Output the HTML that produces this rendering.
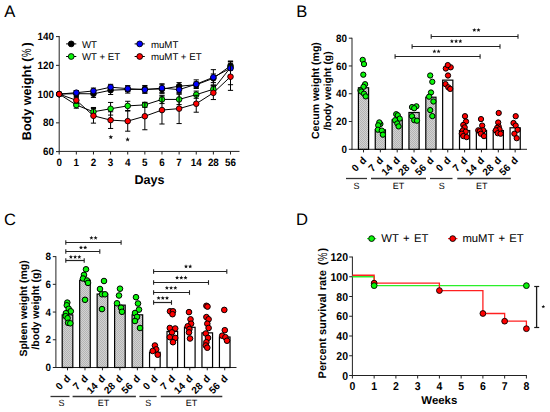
<!DOCTYPE html>
<html><head><meta charset="utf-8"><style>
html,body{margin:0;padding:0;background:#fff;}
svg{display:block;}
text{font-family:"Liberation Sans", sans-serif;text-rendering:geometricPrecision;}
</style></head><body>
<svg width="550" height="412" viewBox="0 0 550 412">
<defs><pattern id="hatch" width="2" height="2" patternUnits="userSpaceOnUse"><rect width="2" height="2" fill="#d2d2d2"/><rect width="1" height="1" fill="#b4b4b4"/><rect x="1" y="1" width="1" height="1" fill="#b4b4b4"/></pattern></defs>
<rect width="550" height="412" fill="#fff"/>
<text x="4.2" y="16.6" font-size="16.6">A</text>
<line x1="59.2" y1="36" x2="59.2" y2="151.9" stroke="#222" stroke-width="1"/>
<line x1="58.7" y1="151.4" x2="239.5" y2="151.4" stroke="#222" stroke-width="1"/>
<line x1="56" y1="36.6" x2="59.2" y2="36.6" stroke="#222" stroke-width="1"/>
<text transform="translate(54 40.2) scale(0.93 1)" font-size="10.6" font-weight="bold" text-anchor="end">140</text>
<line x1="56" y1="65.35" x2="59.2" y2="65.35" stroke="#222" stroke-width="1"/>
<text transform="translate(54 68.95) scale(0.93 1)" font-size="10.6" font-weight="bold" text-anchor="end">120</text>
<line x1="56" y1="94.1" x2="59.2" y2="94.1" stroke="#222" stroke-width="1"/>
<text transform="translate(54 97.7) scale(0.93 1)" font-size="10.6" font-weight="bold" text-anchor="end">100</text>
<line x1="56" y1="122.85" x2="59.2" y2="122.85" stroke="#222" stroke-width="1"/>
<text transform="translate(54 126.45) scale(0.93 1)" font-size="10.6" font-weight="bold" text-anchor="end">80</text>
<line x1="56" y1="151.6" x2="59.2" y2="151.6" stroke="#222" stroke-width="1"/>
<text transform="translate(54 155.2) scale(0.93 1)" font-size="10.6" font-weight="bold" text-anchor="end">60</text>
<line x1="59.2" y1="151.4" x2="59.2" y2="154.5" stroke="#222" stroke-width="1"/>
<text transform="translate(59.2 165.6) scale(0.93 1)" font-size="10.6" font-weight="bold" text-anchor="middle">0</text>
<line x1="76.33" y1="151.4" x2="76.33" y2="154.5" stroke="#222" stroke-width="1"/>
<text transform="translate(76.33 165.6) scale(0.93 1)" font-size="10.6" font-weight="bold" text-anchor="middle">1</text>
<line x1="93.46" y1="151.4" x2="93.46" y2="154.5" stroke="#222" stroke-width="1"/>
<text transform="translate(93.46 165.6) scale(0.93 1)" font-size="10.6" font-weight="bold" text-anchor="middle">2</text>
<line x1="110.59" y1="151.4" x2="110.59" y2="154.5" stroke="#222" stroke-width="1"/>
<text transform="translate(110.59 165.6) scale(0.93 1)" font-size="10.6" font-weight="bold" text-anchor="middle">3</text>
<line x1="127.72" y1="151.4" x2="127.72" y2="154.5" stroke="#222" stroke-width="1"/>
<text transform="translate(127.72 165.6) scale(0.93 1)" font-size="10.6" font-weight="bold" text-anchor="middle">4</text>
<line x1="144.85" y1="151.4" x2="144.85" y2="154.5" stroke="#222" stroke-width="1"/>
<text transform="translate(144.85 165.6) scale(0.93 1)" font-size="10.6" font-weight="bold" text-anchor="middle">5</text>
<line x1="161.98" y1="151.4" x2="161.98" y2="154.5" stroke="#222" stroke-width="1"/>
<text transform="translate(161.98 165.6) scale(0.93 1)" font-size="10.6" font-weight="bold" text-anchor="middle">6</text>
<line x1="179.11" y1="151.4" x2="179.11" y2="154.5" stroke="#222" stroke-width="1"/>
<text transform="translate(179.11 165.6) scale(0.93 1)" font-size="10.6" font-weight="bold" text-anchor="middle">7</text>
<line x1="196.24" y1="151.4" x2="196.24" y2="154.5" stroke="#222" stroke-width="1"/>
<text transform="translate(196.24 165.6) scale(0.93 1)" font-size="10.6" font-weight="bold" text-anchor="middle">14</text>
<line x1="213.37" y1="151.4" x2="213.37" y2="154.5" stroke="#222" stroke-width="1"/>
<text transform="translate(213.37 165.6) scale(0.93 1)" font-size="10.6" font-weight="bold" text-anchor="middle">28</text>
<line x1="230.5" y1="151.4" x2="230.5" y2="154.5" stroke="#222" stroke-width="1"/>
<text transform="translate(230.5 165.6) scale(0.93 1)" font-size="10.6" font-weight="bold" text-anchor="middle">56</text>
<text x="149.5" y="184.2" font-size="12.6" font-weight="bold" text-anchor="middle">Days</text>
<text x="31.3" y="140.2" font-size="12.6" font-weight="bold" transform="rotate(-90 31.3 140.2)">Body weight</text>
<text x="31.3" y="61.7" font-size="12.6" font-weight="bold" transform="rotate(-90 31.3 61.7)">(</text>
<text font-size="13.4" text-anchor="middle" transform="translate(31.2 52.75) rotate(-90) scale(0.72 1)">%</text>
<text x="31.3" y="46.6" font-size="12.6" font-weight="bold" transform="rotate(-90 31.3 46.6)">)</text>
<line x1="66.1" y1="43.9" x2="76.3" y2="43.9" stroke="#000" stroke-width="1"/>
<circle cx="71.2" cy="43.9" r="2.9" fill="#000" stroke="#000" stroke-width="0.9"/>
<text x="81.9" y="47.8" font-size="9.7">WT</text>
<line x1="66.1" y1="56.5" x2="76.3" y2="56.5" stroke="#000" stroke-width="1"/>
<circle cx="71.2" cy="56.5" r="2.9" fill="#0af50a" stroke="#000" stroke-width="0.9"/>
<text x="81.9" y="60.3" font-size="9.7">WT + ET</text>
<line x1="134.6" y1="43.9" x2="144.8" y2="43.9" stroke="#000" stroke-width="1"/>
<circle cx="139.7" cy="43.9" r="2.9" fill="#0000ff" stroke="#000" stroke-width="0.9"/>
<text x="150.9" y="47.8" font-size="9.7">muMT</text>
<line x1="134.6" y1="56.5" x2="144.8" y2="56.5" stroke="#000" stroke-width="1"/>
<circle cx="139.7" cy="56.5" r="2.9" fill="#ff0000" stroke="#000" stroke-width="0.9"/>
<text x="150.9" y="60.3" font-size="9.7">muMT + ET</text>
<polyline points="59.2,94.1 76.33,93.67 93.46,93.81 110.59,90.22 127.72,89.5 144.85,89.07 161.98,89.07 179.11,86.19 196.24,84.76 213.37,78.29 230.5,65.78" fill="none" stroke="#000" stroke-width="1"/>
<polyline points="59.2,94.1 76.33,105.02 93.46,111.78 110.59,108.76 127.72,105.89 144.85,104.88 161.98,99.42 179.11,99.42 196.24,94.67 213.37,89.21 230.5,67.51" fill="none" stroke="#000" stroke-width="1"/>
<polyline points="59.2,94.1 76.33,92.66 93.46,90.94 110.59,87.2 127.72,88.64 144.85,89.79 161.98,88.06 179.11,89.64 196.24,84.18 213.37,77.28 230.5,68.22" fill="none" stroke="#000" stroke-width="1"/>
<polyline points="59.2,94.1 76.33,100.28 93.46,115.81 110.59,120.12 127.72,121.12 144.85,116.24 161.98,110.06 179.11,108.62 196.24,103.73 213.37,92.81 230.5,76.71" fill="none" stroke="#000" stroke-width="1"/>
<line x1="76.33" y1="90.79" x2="76.33" y2="96.54" stroke="#000" stroke-width="1"/>
<line x1="73.73" y1="90.79" x2="78.93" y2="90.79" stroke="#000" stroke-width="1"/>
<line x1="73.73" y1="96.54" x2="78.93" y2="96.54" stroke="#000" stroke-width="1"/>
<line x1="93.46" y1="90.22" x2="93.46" y2="97.41" stroke="#000" stroke-width="1"/>
<line x1="90.86" y1="90.22" x2="96.06" y2="90.22" stroke="#000" stroke-width="1"/>
<line x1="90.86" y1="97.41" x2="96.06" y2="97.41" stroke="#000" stroke-width="1"/>
<line x1="110.59" y1="85.91" x2="110.59" y2="94.53" stroke="#000" stroke-width="1"/>
<line x1="107.99" y1="85.91" x2="113.19" y2="85.91" stroke="#000" stroke-width="1"/>
<line x1="107.99" y1="94.53" x2="113.19" y2="94.53" stroke="#000" stroke-width="1"/>
<line x1="127.72" y1="85.91" x2="127.72" y2="93.09" stroke="#000" stroke-width="1"/>
<line x1="125.12" y1="85.91" x2="130.32" y2="85.91" stroke="#000" stroke-width="1"/>
<line x1="125.12" y1="93.09" x2="130.32" y2="93.09" stroke="#000" stroke-width="1"/>
<line x1="144.85" y1="85.47" x2="144.85" y2="92.66" stroke="#000" stroke-width="1"/>
<line x1="142.25" y1="85.47" x2="147.45" y2="85.47" stroke="#000" stroke-width="1"/>
<line x1="142.25" y1="92.66" x2="147.45" y2="92.66" stroke="#000" stroke-width="1"/>
<line x1="161.98" y1="84.76" x2="161.98" y2="93.38" stroke="#000" stroke-width="1"/>
<line x1="159.38" y1="84.76" x2="164.58" y2="84.76" stroke="#000" stroke-width="1"/>
<line x1="159.38" y1="93.38" x2="164.58" y2="93.38" stroke="#000" stroke-width="1"/>
<line x1="179.11" y1="82.6" x2="179.11" y2="89.79" stroke="#000" stroke-width="1"/>
<line x1="176.51" y1="82.6" x2="181.71" y2="82.6" stroke="#000" stroke-width="1"/>
<line x1="176.51" y1="89.79" x2="181.71" y2="89.79" stroke="#000" stroke-width="1"/>
<line x1="196.24" y1="81.88" x2="196.24" y2="87.63" stroke="#000" stroke-width="1"/>
<line x1="193.64" y1="81.88" x2="198.84" y2="81.88" stroke="#000" stroke-width="1"/>
<line x1="193.64" y1="87.63" x2="198.84" y2="87.63" stroke="#000" stroke-width="1"/>
<line x1="213.37" y1="73.97" x2="213.37" y2="82.6" stroke="#000" stroke-width="1"/>
<line x1="210.77" y1="73.97" x2="215.97" y2="73.97" stroke="#000" stroke-width="1"/>
<line x1="210.77" y1="82.6" x2="215.97" y2="82.6" stroke="#000" stroke-width="1"/>
<line x1="230.5" y1="61.47" x2="230.5" y2="70.09" stroke="#000" stroke-width="1"/>
<line x1="227.9" y1="61.47" x2="233.1" y2="61.47" stroke="#000" stroke-width="1"/>
<line x1="227.9" y1="70.09" x2="233.1" y2="70.09" stroke="#000" stroke-width="1"/>
<circle cx="59.2" cy="94.1" r="2.8" fill="#000" stroke="#000" stroke-width="0.9"/>
<circle cx="76.33" cy="93.67" r="2.8" fill="#000" stroke="#000" stroke-width="0.9"/>
<circle cx="93.46" cy="93.81" r="2.8" fill="#000" stroke="#000" stroke-width="0.9"/>
<circle cx="110.59" cy="90.22" r="2.8" fill="#000" stroke="#000" stroke-width="0.9"/>
<circle cx="127.72" cy="89.5" r="2.8" fill="#000" stroke="#000" stroke-width="0.9"/>
<circle cx="144.85" cy="89.07" r="2.8" fill="#000" stroke="#000" stroke-width="0.9"/>
<circle cx="161.98" cy="89.07" r="2.8" fill="#000" stroke="#000" stroke-width="0.9"/>
<circle cx="179.11" cy="86.19" r="2.8" fill="#000" stroke="#000" stroke-width="0.9"/>
<circle cx="196.24" cy="84.76" r="2.8" fill="#000" stroke="#000" stroke-width="0.9"/>
<circle cx="213.37" cy="78.29" r="2.8" fill="#000" stroke="#000" stroke-width="0.9"/>
<circle cx="230.5" cy="65.78" r="2.8" fill="#000" stroke="#000" stroke-width="0.9"/>
<line x1="76.33" y1="101.86" x2="76.33" y2="108.19" stroke="#000" stroke-width="1"/>
<line x1="73.73" y1="101.86" x2="78.93" y2="101.86" stroke="#000" stroke-width="1"/>
<line x1="73.73" y1="108.19" x2="78.93" y2="108.19" stroke="#000" stroke-width="1"/>
<line x1="93.46" y1="107.47" x2="93.46" y2="116.09" stroke="#000" stroke-width="1"/>
<line x1="90.86" y1="107.47" x2="96.06" y2="107.47" stroke="#000" stroke-width="1"/>
<line x1="90.86" y1="116.09" x2="96.06" y2="116.09" stroke="#000" stroke-width="1"/>
<line x1="110.59" y1="102.44" x2="110.59" y2="115.09" stroke="#000" stroke-width="1"/>
<line x1="107.99" y1="102.44" x2="113.19" y2="102.44" stroke="#000" stroke-width="1"/>
<line x1="107.99" y1="115.09" x2="113.19" y2="115.09" stroke="#000" stroke-width="1"/>
<line x1="127.72" y1="101.29" x2="127.72" y2="110.49" stroke="#000" stroke-width="1"/>
<line x1="125.12" y1="101.29" x2="130.32" y2="101.29" stroke="#000" stroke-width="1"/>
<line x1="125.12" y1="110.49" x2="130.32" y2="110.49" stroke="#000" stroke-width="1"/>
<line x1="144.85" y1="102.29" x2="144.85" y2="107.47" stroke="#000" stroke-width="1"/>
<line x1="142.25" y1="102.29" x2="147.45" y2="102.29" stroke="#000" stroke-width="1"/>
<line x1="142.25" y1="107.47" x2="147.45" y2="107.47" stroke="#000" stroke-width="1"/>
<line x1="161.98" y1="95.25" x2="161.98" y2="103.59" stroke="#000" stroke-width="1"/>
<line x1="159.38" y1="95.25" x2="164.58" y2="95.25" stroke="#000" stroke-width="1"/>
<line x1="159.38" y1="103.59" x2="164.58" y2="103.59" stroke="#000" stroke-width="1"/>
<line x1="179.11" y1="94.24" x2="179.11" y2="104.59" stroke="#000" stroke-width="1"/>
<line x1="176.51" y1="94.24" x2="181.71" y2="94.24" stroke="#000" stroke-width="1"/>
<line x1="176.51" y1="104.59" x2="181.71" y2="104.59" stroke="#000" stroke-width="1"/>
<line x1="196.24" y1="91.08" x2="196.24" y2="98.27" stroke="#000" stroke-width="1"/>
<line x1="193.64" y1="91.08" x2="198.84" y2="91.08" stroke="#000" stroke-width="1"/>
<line x1="193.64" y1="98.27" x2="198.84" y2="98.27" stroke="#000" stroke-width="1"/>
<line x1="213.37" y1="85.62" x2="213.37" y2="92.81" stroke="#000" stroke-width="1"/>
<line x1="210.77" y1="85.62" x2="215.97" y2="85.62" stroke="#000" stroke-width="1"/>
<line x1="210.77" y1="92.81" x2="215.97" y2="92.81" stroke="#000" stroke-width="1"/>
<circle cx="59.2" cy="94.1" r="2.8" fill="#0af50a" stroke="#000" stroke-width="0.9"/>
<circle cx="76.33" cy="105.02" r="2.8" fill="#0af50a" stroke="#000" stroke-width="0.9"/>
<circle cx="93.46" cy="111.78" r="2.8" fill="#0af50a" stroke="#000" stroke-width="0.9"/>
<circle cx="110.59" cy="108.76" r="2.8" fill="#0af50a" stroke="#000" stroke-width="0.9"/>
<circle cx="127.72" cy="105.89" r="2.8" fill="#0af50a" stroke="#000" stroke-width="0.9"/>
<circle cx="144.85" cy="104.88" r="2.8" fill="#0af50a" stroke="#000" stroke-width="0.9"/>
<circle cx="161.98" cy="99.42" r="2.8" fill="#0af50a" stroke="#000" stroke-width="0.9"/>
<circle cx="179.11" cy="99.42" r="2.8" fill="#0af50a" stroke="#000" stroke-width="0.9"/>
<circle cx="196.24" cy="94.67" r="2.8" fill="#0af50a" stroke="#000" stroke-width="0.9"/>
<circle cx="213.37" cy="89.21" r="2.8" fill="#0af50a" stroke="#000" stroke-width="0.9"/>
<circle cx="230.5" cy="67.51" r="2.8" fill="#0af50a" stroke="#000" stroke-width="0.9"/>
<line x1="76.33" y1="90.51" x2="76.33" y2="94.82" stroke="#000" stroke-width="1"/>
<line x1="73.73" y1="90.51" x2="78.93" y2="90.51" stroke="#000" stroke-width="1"/>
<line x1="73.73" y1="94.82" x2="78.93" y2="94.82" stroke="#000" stroke-width="1"/>
<line x1="93.46" y1="88.06" x2="93.46" y2="93.81" stroke="#000" stroke-width="1"/>
<line x1="90.86" y1="88.06" x2="96.06" y2="88.06" stroke="#000" stroke-width="1"/>
<line x1="90.86" y1="93.81" x2="96.06" y2="93.81" stroke="#000" stroke-width="1"/>
<line x1="110.59" y1="84.33" x2="110.59" y2="90.08" stroke="#000" stroke-width="1"/>
<line x1="107.99" y1="84.33" x2="113.19" y2="84.33" stroke="#000" stroke-width="1"/>
<line x1="107.99" y1="90.08" x2="113.19" y2="90.08" stroke="#000" stroke-width="1"/>
<line x1="127.72" y1="85.76" x2="127.72" y2="91.51" stroke="#000" stroke-width="1"/>
<line x1="125.12" y1="85.76" x2="130.32" y2="85.76" stroke="#000" stroke-width="1"/>
<line x1="125.12" y1="91.51" x2="130.32" y2="91.51" stroke="#000" stroke-width="1"/>
<line x1="144.85" y1="86.19" x2="144.85" y2="93.38" stroke="#000" stroke-width="1"/>
<line x1="142.25" y1="86.19" x2="147.45" y2="86.19" stroke="#000" stroke-width="1"/>
<line x1="142.25" y1="93.38" x2="147.45" y2="93.38" stroke="#000" stroke-width="1"/>
<line x1="161.98" y1="83.75" x2="161.98" y2="92.37" stroke="#000" stroke-width="1"/>
<line x1="159.38" y1="83.75" x2="164.58" y2="83.75" stroke="#000" stroke-width="1"/>
<line x1="159.38" y1="92.37" x2="164.58" y2="92.37" stroke="#000" stroke-width="1"/>
<line x1="179.11" y1="86.77" x2="179.11" y2="92.52" stroke="#000" stroke-width="1"/>
<line x1="176.51" y1="86.77" x2="181.71" y2="86.77" stroke="#000" stroke-width="1"/>
<line x1="176.51" y1="92.52" x2="181.71" y2="92.52" stroke="#000" stroke-width="1"/>
<line x1="196.24" y1="79.87" x2="196.24" y2="88.49" stroke="#000" stroke-width="1"/>
<line x1="193.64" y1="79.87" x2="198.84" y2="79.87" stroke="#000" stroke-width="1"/>
<line x1="193.64" y1="88.49" x2="198.84" y2="88.49" stroke="#000" stroke-width="1"/>
<line x1="213.37" y1="69.66" x2="213.37" y2="84.9" stroke="#000" stroke-width="1"/>
<line x1="210.77" y1="69.66" x2="215.97" y2="69.66" stroke="#000" stroke-width="1"/>
<line x1="210.77" y1="84.9" x2="215.97" y2="84.9" stroke="#000" stroke-width="1"/>
<line x1="230.5" y1="61.04" x2="230.5" y2="75.41" stroke="#000" stroke-width="1"/>
<line x1="227.9" y1="61.04" x2="233.1" y2="61.04" stroke="#000" stroke-width="1"/>
<line x1="227.9" y1="75.41" x2="233.1" y2="75.41" stroke="#000" stroke-width="1"/>
<circle cx="59.2" cy="94.1" r="2.8" fill="#0000ff" stroke="#000" stroke-width="0.9"/>
<circle cx="76.33" cy="92.66" r="2.8" fill="#0000ff" stroke="#000" stroke-width="0.9"/>
<circle cx="93.46" cy="90.94" r="2.8" fill="#0000ff" stroke="#000" stroke-width="0.9"/>
<circle cx="110.59" cy="87.2" r="2.8" fill="#0000ff" stroke="#000" stroke-width="0.9"/>
<circle cx="127.72" cy="88.64" r="2.8" fill="#0000ff" stroke="#000" stroke-width="0.9"/>
<circle cx="144.85" cy="89.79" r="2.8" fill="#0000ff" stroke="#000" stroke-width="0.9"/>
<circle cx="161.98" cy="88.06" r="2.8" fill="#0000ff" stroke="#000" stroke-width="0.9"/>
<circle cx="179.11" cy="89.64" r="2.8" fill="#0000ff" stroke="#000" stroke-width="0.9"/>
<circle cx="196.24" cy="84.18" r="2.8" fill="#0000ff" stroke="#000" stroke-width="0.9"/>
<circle cx="213.37" cy="77.28" r="2.8" fill="#0000ff" stroke="#000" stroke-width="0.9"/>
<circle cx="230.5" cy="68.22" r="2.8" fill="#0000ff" stroke="#000" stroke-width="0.9"/>
<line x1="76.33" y1="97.41" x2="76.33" y2="103.16" stroke="#000" stroke-width="1"/>
<line x1="73.73" y1="97.41" x2="78.93" y2="97.41" stroke="#000" stroke-width="1"/>
<line x1="73.73" y1="103.16" x2="78.93" y2="103.16" stroke="#000" stroke-width="1"/>
<line x1="93.46" y1="108.47" x2="93.46" y2="123.14" stroke="#000" stroke-width="1"/>
<line x1="90.86" y1="108.47" x2="96.06" y2="108.47" stroke="#000" stroke-width="1"/>
<line x1="90.86" y1="123.14" x2="96.06" y2="123.14" stroke="#000" stroke-width="1"/>
<line x1="110.59" y1="111.78" x2="110.59" y2="128.46" stroke="#000" stroke-width="1"/>
<line x1="107.99" y1="111.78" x2="113.19" y2="111.78" stroke="#000" stroke-width="1"/>
<line x1="107.99" y1="128.46" x2="113.19" y2="128.46" stroke="#000" stroke-width="1"/>
<line x1="127.72" y1="111.06" x2="127.72" y2="131.19" stroke="#000" stroke-width="1"/>
<line x1="125.12" y1="111.06" x2="130.32" y2="111.06" stroke="#000" stroke-width="1"/>
<line x1="125.12" y1="131.19" x2="130.32" y2="131.19" stroke="#000" stroke-width="1"/>
<line x1="144.85" y1="102.73" x2="144.85" y2="129.75" stroke="#000" stroke-width="1"/>
<line x1="142.25" y1="102.73" x2="147.45" y2="102.73" stroke="#000" stroke-width="1"/>
<line x1="142.25" y1="129.75" x2="147.45" y2="129.75" stroke="#000" stroke-width="1"/>
<line x1="161.98" y1="96.11" x2="161.98" y2="124" stroke="#000" stroke-width="1"/>
<line x1="159.38" y1="96.11" x2="164.58" y2="96.11" stroke="#000" stroke-width="1"/>
<line x1="159.38" y1="124" x2="164.58" y2="124" stroke="#000" stroke-width="1"/>
<line x1="179.11" y1="93.67" x2="179.11" y2="123.57" stroke="#000" stroke-width="1"/>
<line x1="176.51" y1="93.67" x2="181.71" y2="93.67" stroke="#000" stroke-width="1"/>
<line x1="176.51" y1="123.57" x2="181.71" y2="123.57" stroke="#000" stroke-width="1"/>
<line x1="196.24" y1="95.25" x2="196.24" y2="112.21" stroke="#000" stroke-width="1"/>
<line x1="193.64" y1="95.25" x2="198.84" y2="95.25" stroke="#000" stroke-width="1"/>
<line x1="193.64" y1="112.21" x2="198.84" y2="112.21" stroke="#000" stroke-width="1"/>
<line x1="213.37" y1="86.05" x2="213.37" y2="99.56" stroke="#000" stroke-width="1"/>
<line x1="210.77" y1="86.05" x2="215.97" y2="86.05" stroke="#000" stroke-width="1"/>
<line x1="210.77" y1="99.56" x2="215.97" y2="99.56" stroke="#000" stroke-width="1"/>
<line x1="230.5" y1="63.05" x2="230.5" y2="90.36" stroke="#000" stroke-width="1"/>
<line x1="227.9" y1="63.05" x2="233.1" y2="63.05" stroke="#000" stroke-width="1"/>
<line x1="227.9" y1="90.36" x2="233.1" y2="90.36" stroke="#000" stroke-width="1"/>
<circle cx="59.2" cy="94.1" r="2.8" fill="#ff0000" stroke="#000" stroke-width="0.9"/>
<circle cx="76.33" cy="100.28" r="2.8" fill="#ff0000" stroke="#000" stroke-width="0.9"/>
<circle cx="93.46" cy="115.81" r="2.8" fill="#ff0000" stroke="#000" stroke-width="0.9"/>
<circle cx="110.59" cy="120.12" r="2.8" fill="#ff0000" stroke="#000" stroke-width="0.9"/>
<circle cx="127.72" cy="121.12" r="2.8" fill="#ff0000" stroke="#000" stroke-width="0.9"/>
<circle cx="144.85" cy="116.24" r="2.8" fill="#ff0000" stroke="#000" stroke-width="0.9"/>
<circle cx="161.98" cy="110.06" r="2.8" fill="#ff0000" stroke="#000" stroke-width="0.9"/>
<circle cx="179.11" cy="108.62" r="2.8" fill="#ff0000" stroke="#000" stroke-width="0.9"/>
<circle cx="196.24" cy="103.73" r="2.8" fill="#ff0000" stroke="#000" stroke-width="0.9"/>
<circle cx="213.37" cy="92.81" r="2.8" fill="#ff0000" stroke="#000" stroke-width="0.9"/>
<circle cx="230.5" cy="76.71" r="2.8" fill="#ff0000" stroke="#000" stroke-width="0.9"/>
<line x1="227.9" y1="84.7" x2="233.1" y2="84.7" stroke="#000" stroke-width="1"/>
<polygon points="110.8,134.7 111.42,136.25 113.08,136.36 111.8,137.42 112.21,139.04 110.8,138.15 109.39,139.04 109.8,137.42 108.52,136.36 110.18,136.25" fill="#111"/>
<polygon points="127.6,137.1 128.22,138.65 129.88,138.76 128.6,139.82 129.01,141.44 127.6,140.55 126.19,141.44 126.6,139.82 125.32,138.76 126.98,138.65" fill="#111"/>
<text x="296.3" y="16.5" font-size="16.6">B</text>
<line x1="352" y1="37.8" x2="352" y2="149.8" stroke="#222" stroke-width="1"/>
<line x1="351.5" y1="149.3" x2="527" y2="149.3" stroke="#222" stroke-width="1"/>
<line x1="348.8" y1="38.18" x2="352" y2="38.18" stroke="#222" stroke-width="1"/>
<text transform="translate(347 41.78) scale(0.93 1)" font-size="10.6" font-weight="bold" text-anchor="end">80</text>
<line x1="348.8" y1="65.96" x2="352" y2="65.96" stroke="#222" stroke-width="1"/>
<text transform="translate(347 69.56) scale(0.93 1)" font-size="10.6" font-weight="bold" text-anchor="end">60</text>
<line x1="348.8" y1="93.74" x2="352" y2="93.74" stroke="#222" stroke-width="1"/>
<text transform="translate(347 97.34) scale(0.93 1)" font-size="10.6" font-weight="bold" text-anchor="end">40</text>
<line x1="348.8" y1="121.52" x2="352" y2="121.52" stroke="#222" stroke-width="1"/>
<text transform="translate(347 125.12) scale(0.93 1)" font-size="10.6" font-weight="bold" text-anchor="end">20</text>
<line x1="348.8" y1="149.3" x2="352" y2="149.3" stroke="#222" stroke-width="1"/>
<text transform="translate(347 152.9) scale(0.93 1)" font-size="10.6" font-weight="bold" text-anchor="end">0</text>
<rect x="358.4" y="87.77" width="10.2" height="61.53" fill="url(#hatch)" stroke="#000" stroke-width="1.2"/>
<rect x="375.25" y="129.85" width="10.2" height="19.45" fill="url(#hatch)" stroke="#000" stroke-width="1.2"/>
<rect x="392.1" y="119.85" width="10.2" height="29.45" fill="url(#hatch)" stroke="#000" stroke-width="1.2"/>
<rect x="408.95" y="112.49" width="10.2" height="36.81" fill="url(#hatch)" stroke="#000" stroke-width="1.2"/>
<rect x="425.8" y="97.21" width="10.2" height="52.09" fill="url(#hatch)" stroke="#000" stroke-width="1.2"/>
<rect x="442.65" y="80.13" width="10.2" height="69.17" fill="#fff" stroke="#000" stroke-width="1.2"/>
<rect x="459.5" y="130.55" width="10.2" height="18.75" fill="#fff" stroke="#000" stroke-width="1.2"/>
<rect x="476.35" y="130.41" width="10.2" height="18.89" fill="#fff" stroke="#000" stroke-width="1.2"/>
<rect x="493.2" y="130.55" width="10.2" height="18.75" fill="#fff" stroke="#000" stroke-width="1.2"/>
<rect x="510.05" y="127.77" width="10.2" height="21.53" fill="#fff" stroke="#000" stroke-width="1.2"/>
<circle cx="362.7" cy="59.9" r="2.65" fill="#0af50a" stroke="#000" stroke-width="1"/>
<circle cx="364" cy="64.1" r="2.65" fill="#0af50a" stroke="#000" stroke-width="1"/>
<circle cx="363.3" cy="74.7" r="2.65" fill="#0af50a" stroke="#000" stroke-width="1"/>
<circle cx="365.1" cy="84.2" r="2.65" fill="#0af50a" stroke="#000" stroke-width="1"/>
<circle cx="363.5" cy="86.8" r="2.65" fill="#0af50a" stroke="#000" stroke-width="1"/>
<circle cx="360.5" cy="90.4" r="2.65" fill="#0af50a" stroke="#000" stroke-width="1"/>
<circle cx="361.3" cy="91.6" r="2.65" fill="#0af50a" stroke="#000" stroke-width="1"/>
<circle cx="364" cy="93.7" r="2.65" fill="#0af50a" stroke="#000" stroke-width="1"/>
<circle cx="365.7" cy="96.4" r="2.65" fill="#0af50a" stroke="#000" stroke-width="1"/>
<circle cx="380.4" cy="124" r="2.65" fill="#0af50a" stroke="#000" stroke-width="1"/>
<circle cx="379.3" cy="122.4" r="2.65" fill="#0af50a" stroke="#000" stroke-width="1"/>
<circle cx="378.2" cy="125.3" r="2.65" fill="#0af50a" stroke="#000" stroke-width="1"/>
<circle cx="377.9" cy="129.7" r="2.65" fill="#0af50a" stroke="#000" stroke-width="1"/>
<circle cx="381.8" cy="130.6" r="2.65" fill="#0af50a" stroke="#000" stroke-width="1"/>
<circle cx="382.9" cy="134.7" r="2.65" fill="#0af50a" stroke="#000" stroke-width="1"/>
<circle cx="396.2" cy="114.2" r="2.65" fill="#0af50a" stroke="#000" stroke-width="1"/>
<circle cx="397.8" cy="115.3" r="2.65" fill="#0af50a" stroke="#000" stroke-width="1"/>
<circle cx="399.7" cy="118.6" r="2.65" fill="#0af50a" stroke="#000" stroke-width="1"/>
<circle cx="395.1" cy="120.2" r="2.65" fill="#0af50a" stroke="#000" stroke-width="1"/>
<circle cx="397.3" cy="123.5" r="2.65" fill="#0af50a" stroke="#000" stroke-width="1"/>
<circle cx="398.6" cy="126.4" r="2.65" fill="#0af50a" stroke="#000" stroke-width="1"/>
<circle cx="412" cy="107.1" r="2.65" fill="#0af50a" stroke="#000" stroke-width="1"/>
<circle cx="416.4" cy="106.3" r="2.65" fill="#0af50a" stroke="#000" stroke-width="1"/>
<circle cx="414.2" cy="108.2" r="2.65" fill="#0af50a" stroke="#000" stroke-width="1"/>
<circle cx="412" cy="116.2" r="2.65" fill="#0af50a" stroke="#000" stroke-width="1"/>
<circle cx="414.2" cy="120.2" r="2.65" fill="#0af50a" stroke="#000" stroke-width="1"/>
<circle cx="417" cy="120.7" r="2.65" fill="#0af50a" stroke="#000" stroke-width="1"/>
<circle cx="430.2" cy="75.5" r="2.65" fill="#0af50a" stroke="#000" stroke-width="1"/>
<circle cx="432.3" cy="81.8" r="2.65" fill="#0af50a" stroke="#000" stroke-width="1"/>
<circle cx="431" cy="92.5" r="2.65" fill="#0af50a" stroke="#000" stroke-width="1"/>
<circle cx="429.1" cy="96.7" r="2.65" fill="#0af50a" stroke="#000" stroke-width="1"/>
<circle cx="433.4" cy="101.5" r="2.65" fill="#0af50a" stroke="#000" stroke-width="1"/>
<circle cx="430.2" cy="110.1" r="2.65" fill="#0af50a" stroke="#000" stroke-width="1"/>
<circle cx="432.3" cy="116.1" r="2.65" fill="#0af50a" stroke="#000" stroke-width="1"/>
<circle cx="450.7" cy="67.3" r="2.65" fill="#ff0000" stroke="#000" stroke-width="1"/>
<circle cx="445.8" cy="68.5" r="2.65" fill="#ff0000" stroke="#000" stroke-width="1"/>
<circle cx="447.8" cy="65.1" r="2.65" fill="#ff0000" stroke="#000" stroke-width="1"/>
<circle cx="448" cy="75.5" r="2.65" fill="#ff0000" stroke="#000" stroke-width="1"/>
<circle cx="445.5" cy="84.1" r="2.65" fill="#ff0000" stroke="#000" stroke-width="1"/>
<circle cx="448.3" cy="87.3" r="2.65" fill="#ff0000" stroke="#000" stroke-width="1"/>
<circle cx="450.2" cy="88.9" r="2.65" fill="#ff0000" stroke="#000" stroke-width="1"/>
<circle cx="465" cy="116.2" r="2.65" fill="#ff0000" stroke="#000" stroke-width="1"/>
<circle cx="466" cy="121.5" r="2.65" fill="#ff0000" stroke="#000" stroke-width="1"/>
<circle cx="463.3" cy="124.9" r="2.65" fill="#ff0000" stroke="#000" stroke-width="1"/>
<circle cx="464.7" cy="127.4" r="2.65" fill="#ff0000" stroke="#000" stroke-width="1"/>
<circle cx="462.8" cy="130.5" r="2.65" fill="#ff0000" stroke="#000" stroke-width="1"/>
<circle cx="465.7" cy="131.7" r="2.65" fill="#ff0000" stroke="#000" stroke-width="1"/>
<circle cx="461.8" cy="133.7" r="2.65" fill="#ff0000" stroke="#000" stroke-width="1"/>
<circle cx="463.3" cy="136.1" r="2.65" fill="#ff0000" stroke="#000" stroke-width="1"/>
<circle cx="466.7" cy="137.1" r="2.65" fill="#ff0000" stroke="#000" stroke-width="1"/>
<circle cx="481" cy="119.1" r="2.65" fill="#ff0000" stroke="#000" stroke-width="1"/>
<circle cx="482.2" cy="125.6" r="2.65" fill="#ff0000" stroke="#000" stroke-width="1"/>
<circle cx="478.3" cy="130.3" r="2.65" fill="#ff0000" stroke="#000" stroke-width="1"/>
<circle cx="483.2" cy="130.3" r="2.65" fill="#ff0000" stroke="#000" stroke-width="1"/>
<circle cx="479.8" cy="131.2" r="2.65" fill="#ff0000" stroke="#000" stroke-width="1"/>
<circle cx="480.8" cy="133.7" r="2.65" fill="#ff0000" stroke="#000" stroke-width="1"/>
<circle cx="484" cy="136.1" r="2.65" fill="#ff0000" stroke="#000" stroke-width="1"/>
<circle cx="498.7" cy="113" r="2.65" fill="#ff0000" stroke="#000" stroke-width="1"/>
<circle cx="498.2" cy="122.5" r="2.65" fill="#ff0000" stroke="#000" stroke-width="1"/>
<circle cx="498.7" cy="126.6" r="2.65" fill="#ff0000" stroke="#000" stroke-width="1"/>
<circle cx="497.2" cy="127.8" r="2.65" fill="#ff0000" stroke="#000" stroke-width="1"/>
<circle cx="499.5" cy="129.3" r="2.65" fill="#ff0000" stroke="#000" stroke-width="1"/>
<circle cx="495.8" cy="130.3" r="2.65" fill="#ff0000" stroke="#000" stroke-width="1"/>
<circle cx="497.7" cy="133.2" r="2.65" fill="#ff0000" stroke="#000" stroke-width="1"/>
<circle cx="500.6" cy="133.7" r="2.65" fill="#ff0000" stroke="#000" stroke-width="1"/>
<circle cx="515.7" cy="116.2" r="2.65" fill="#ff0000" stroke="#000" stroke-width="1"/>
<circle cx="513.5" cy="123" r="2.65" fill="#ff0000" stroke="#000" stroke-width="1"/>
<circle cx="515.7" cy="125.6" r="2.65" fill="#ff0000" stroke="#000" stroke-width="1"/>
<circle cx="517.6" cy="129.8" r="2.65" fill="#ff0000" stroke="#000" stroke-width="1"/>
<circle cx="514.4" cy="133.7" r="2.65" fill="#ff0000" stroke="#000" stroke-width="1"/>
<circle cx="516.7" cy="138.2" r="2.65" fill="#ff0000" stroke="#000" stroke-width="1"/>
<line x1="363.5" y1="149.3" x2="363.5" y2="152.4" stroke="#222" stroke-width="1"/>
<text x="367" y="161" font-size="10.0" font-weight="bold" text-anchor="end" word-spacing="1.6" transform="rotate(-45 367 161)">0 d</text>
<line x1="380.35" y1="149.3" x2="380.35" y2="152.4" stroke="#222" stroke-width="1"/>
<text x="383.85" y="161" font-size="10.0" font-weight="bold" text-anchor="end" word-spacing="1.6" transform="rotate(-45 383.85 161)">7 d</text>
<line x1="397.2" y1="149.3" x2="397.2" y2="152.4" stroke="#222" stroke-width="1"/>
<text x="400.7" y="161" font-size="10.0" font-weight="bold" text-anchor="end" word-spacing="1.6" transform="rotate(-45 400.7 161)">14 d</text>
<line x1="414.05" y1="149.3" x2="414.05" y2="152.4" stroke="#222" stroke-width="1"/>
<text x="417.55" y="161" font-size="10.0" font-weight="bold" text-anchor="end" word-spacing="1.6" transform="rotate(-45 417.55 161)">28 d</text>
<line x1="430.9" y1="149.3" x2="430.9" y2="152.4" stroke="#222" stroke-width="1"/>
<text x="434.4" y="161" font-size="10.0" font-weight="bold" text-anchor="end" word-spacing="1.6" transform="rotate(-45 434.4 161)">56 d</text>
<line x1="447.75" y1="149.3" x2="447.75" y2="152.4" stroke="#222" stroke-width="1"/>
<text x="451.25" y="161" font-size="10.0" font-weight="bold" text-anchor="end" word-spacing="1.6" transform="rotate(-45 451.25 161)">0 d</text>
<line x1="464.6" y1="149.3" x2="464.6" y2="152.4" stroke="#222" stroke-width="1"/>
<text x="468.1" y="161" font-size="10.0" font-weight="bold" text-anchor="end" word-spacing="1.6" transform="rotate(-45 468.1 161)">7 d</text>
<line x1="481.45" y1="149.3" x2="481.45" y2="152.4" stroke="#222" stroke-width="1"/>
<text x="484.95" y="161" font-size="10.0" font-weight="bold" text-anchor="end" word-spacing="1.6" transform="rotate(-45 484.95 161)">14 d</text>
<line x1="498.3" y1="149.3" x2="498.3" y2="152.4" stroke="#222" stroke-width="1"/>
<text x="501.8" y="161" font-size="10.0" font-weight="bold" text-anchor="end" word-spacing="1.6" transform="rotate(-45 501.8 161)">28 d</text>
<line x1="515.15" y1="149.3" x2="515.15" y2="152.4" stroke="#222" stroke-width="1"/>
<text x="518.65" y="161" font-size="10.0" font-weight="bold" text-anchor="end" word-spacing="1.6" transform="rotate(-45 518.65 161)">56 d</text>
<line x1="346" y1="178.5" x2="367" y2="178.5" stroke="#333" stroke-width="1.3"/>
<text x="356.5" y="188.6" font-size="9" text-anchor="middle">S</text>
<line x1="371" y1="178.5" x2="426" y2="178.5" stroke="#333" stroke-width="1.3"/>
<text x="398.5" y="188.6" font-size="9" text-anchor="middle">ET</text>
<line x1="430" y1="178.5" x2="452.5" y2="178.5" stroke="#333" stroke-width="1.3"/>
<text x="441.7" y="188.6" font-size="9" text-anchor="middle">S</text>
<line x1="457.3" y1="178.5" x2="510.8" y2="178.5" stroke="#333" stroke-width="1.3"/>
<text x="481.8" y="188.6" font-size="9" text-anchor="middle">ET</text>
<text x="318.6" y="90.55" font-size="10.5" font-weight="bold" text-anchor="middle" transform="rotate(-90 318.6 90.55)">Cecum weight (mg)</text>
<text x="331" y="90.9" font-size="10.3" font-weight="bold" text-anchor="middle" transform="rotate(-90 331 90.9)">/body weight (g)</text>
<line x1="431.2" y1="36.5" x2="518" y2="36.5" stroke="#222" stroke-width="1.2"/>
<line x1="431.2" y1="34.2" x2="431.2" y2="38.8" stroke="#222" stroke-width="1.1"/>
<line x1="518" y1="34.2" x2="518" y2="38.8" stroke="#222" stroke-width="1.1"/>
<polygon points="474.3,27.95 474.86,29.33 476.34,29.44 475.2,30.39 475.56,31.84 474.3,31.05 473.04,31.84 473.4,30.39 472.26,29.44 473.74,29.33" fill="#111"/>
<polygon points="478.5,27.95 479.06,29.33 480.54,29.44 479.4,30.39 479.76,31.84 478.5,31.05 477.24,31.84 477.6,30.39 476.46,29.44 477.94,29.33" fill="#111"/>
<line x1="412.1" y1="46.5" x2="500" y2="46.5" stroke="#222" stroke-width="1.2"/>
<line x1="412.1" y1="44.2" x2="412.1" y2="48.8" stroke="#222" stroke-width="1.1"/>
<line x1="500" y1="44.2" x2="500" y2="48.8" stroke="#222" stroke-width="1.1"/>
<polygon points="451.9,39.05 452.46,40.43 453.94,40.54 452.8,41.49 453.16,42.94 451.9,42.15 450.64,42.94 451,41.49 449.86,40.54 451.34,40.43" fill="#111"/>
<polygon points="456.1,39.05 456.66,40.43 458.14,40.54 457,41.49 457.36,42.94 456.1,42.15 454.84,42.94 455.2,41.49 454.06,40.54 455.54,40.43" fill="#111"/>
<polygon points="460.3,39.05 460.86,40.43 462.34,40.54 461.2,41.49 461.56,42.94 460.3,42.15 459.04,42.94 459.4,41.49 458.26,40.54 459.74,40.43" fill="#111"/>
<line x1="395.1" y1="56.5" x2="480.1" y2="56.5" stroke="#222" stroke-width="1.2"/>
<line x1="395.1" y1="54.2" x2="395.1" y2="58.8" stroke="#222" stroke-width="1.1"/>
<line x1="480.1" y1="54.2" x2="480.1" y2="58.8" stroke="#222" stroke-width="1.1"/>
<polygon points="434.4,49.25 434.96,50.63 436.44,50.74 435.3,51.69 435.66,53.14 434.4,52.35 433.14,53.14 433.5,51.69 432.36,50.74 433.84,50.63" fill="#111"/>
<polygon points="438.6,49.25 439.16,50.63 440.64,50.74 439.5,51.69 439.86,53.14 438.6,52.35 437.34,53.14 437.7,51.69 436.56,50.74 438.04,50.63" fill="#111"/>
<text x="4" y="225.1" font-size="16.6">C</text>
<line x1="55.9" y1="256.2" x2="55.9" y2="368" stroke="#222" stroke-width="1"/>
<line x1="55.4" y1="367.5" x2="236.5" y2="367.5" stroke="#222" stroke-width="1"/>
<line x1="52.8" y1="256.62" x2="55.9" y2="256.62" stroke="#222" stroke-width="1"/>
<text transform="translate(51 260.22) scale(0.93 1)" font-size="10.6" font-weight="bold" text-anchor="end">8</text>
<line x1="52.8" y1="284.34" x2="55.9" y2="284.34" stroke="#222" stroke-width="1"/>
<text transform="translate(51 287.94) scale(0.93 1)" font-size="10.6" font-weight="bold" text-anchor="end">6</text>
<line x1="52.8" y1="312.06" x2="55.9" y2="312.06" stroke="#222" stroke-width="1"/>
<text transform="translate(51 315.66) scale(0.93 1)" font-size="10.6" font-weight="bold" text-anchor="end">4</text>
<line x1="52.8" y1="339.78" x2="55.9" y2="339.78" stroke="#222" stroke-width="1"/>
<text transform="translate(51 343.38) scale(0.93 1)" font-size="10.6" font-weight="bold" text-anchor="end">2</text>
<line x1="52.8" y1="367.5" x2="55.9" y2="367.5" stroke="#222" stroke-width="1"/>
<text transform="translate(51 371.1) scale(0.93 1)" font-size="10.6" font-weight="bold" text-anchor="end">0</text>
<rect x="62.2" y="314.83" width="10.6" height="52.67" fill="url(#hatch)" stroke="#000" stroke-width="1.2"/>
<rect x="79.67" y="280.18" width="10.6" height="87.32" fill="url(#hatch)" stroke="#000" stroke-width="1.2"/>
<rect x="97.14" y="294.04" width="10.6" height="73.46" fill="url(#hatch)" stroke="#000" stroke-width="1.2"/>
<rect x="114.61" y="305.13" width="10.6" height="62.37" fill="url(#hatch)" stroke="#000" stroke-width="1.2"/>
<rect x="132.08" y="314.83" width="10.6" height="52.67" fill="url(#hatch)" stroke="#000" stroke-width="1.2"/>
<rect x="149.55" y="352.25" width="10.6" height="15.25" fill="#fff" stroke="#000" stroke-width="1.2"/>
<rect x="167.02" y="331.46" width="10.6" height="36.04" fill="#fff" stroke="#000" stroke-width="1.2"/>
<rect x="184.49" y="327.31" width="10.6" height="40.19" fill="#fff" stroke="#000" stroke-width="1.2"/>
<rect x="201.96" y="332.85" width="10.6" height="34.65" fill="#fff" stroke="#000" stroke-width="1.2"/>
<rect x="219.43" y="337.01" width="10.6" height="30.49" fill="#fff" stroke="#000" stroke-width="1.2"/>
<circle cx="67.3" cy="302.6" r="2.8" fill="#0af50a" stroke="#000" stroke-width="1"/>
<circle cx="66.8" cy="305.3" r="2.8" fill="#0af50a" stroke="#000" stroke-width="1"/>
<circle cx="68.7" cy="308.8" r="2.8" fill="#0af50a" stroke="#000" stroke-width="1"/>
<circle cx="70.8" cy="311.3" r="2.8" fill="#0af50a" stroke="#000" stroke-width="1"/>
<circle cx="65.9" cy="313.2" r="2.8" fill="#0af50a" stroke="#000" stroke-width="1"/>
<circle cx="65.7" cy="316.2" r="2.8" fill="#0af50a" stroke="#000" stroke-width="1"/>
<circle cx="67.6" cy="318.2" r="2.8" fill="#0af50a" stroke="#000" stroke-width="1"/>
<circle cx="68.1" cy="322.8" r="2.8" fill="#0af50a" stroke="#000" stroke-width="1"/>
<circle cx="70.3" cy="323.3" r="2.8" fill="#0af50a" stroke="#000" stroke-width="1"/>
<circle cx="86" cy="269.3" r="2.8" fill="#0af50a" stroke="#000" stroke-width="1"/>
<circle cx="84" cy="274.9" r="2.8" fill="#0af50a" stroke="#000" stroke-width="1"/>
<circle cx="83" cy="278.5" r="2.8" fill="#0af50a" stroke="#000" stroke-width="1"/>
<circle cx="87" cy="280.5" r="2.8" fill="#0af50a" stroke="#000" stroke-width="1"/>
<circle cx="88" cy="282.9" r="2.8" fill="#0af50a" stroke="#000" stroke-width="1"/>
<circle cx="85" cy="299.8" r="2.8" fill="#0af50a" stroke="#000" stroke-width="1"/>
<circle cx="104" cy="281" r="2.8" fill="#0af50a" stroke="#000" stroke-width="1"/>
<circle cx="100" cy="289" r="2.8" fill="#0af50a" stroke="#000" stroke-width="1"/>
<circle cx="102" cy="294.3" r="2.8" fill="#0af50a" stroke="#000" stroke-width="1"/>
<circle cx="105" cy="294.3" r="2.8" fill="#0af50a" stroke="#000" stroke-width="1"/>
<circle cx="102" cy="309.1" r="2.8" fill="#0af50a" stroke="#000" stroke-width="1"/>
<circle cx="120" cy="288.7" r="2.8" fill="#0af50a" stroke="#000" stroke-width="1"/>
<circle cx="119" cy="295.5" r="2.8" fill="#0af50a" stroke="#000" stroke-width="1"/>
<circle cx="117" cy="303.3" r="2.8" fill="#0af50a" stroke="#000" stroke-width="1"/>
<circle cx="121" cy="307.7" r="2.8" fill="#0af50a" stroke="#000" stroke-width="1"/>
<circle cx="122" cy="311.8" r="2.8" fill="#0af50a" stroke="#000" stroke-width="1"/>
<circle cx="136" cy="297.2" r="2.8" fill="#0af50a" stroke="#000" stroke-width="1"/>
<circle cx="138" cy="303.5" r="2.8" fill="#0af50a" stroke="#000" stroke-width="1"/>
<circle cx="139" cy="309.6" r="2.8" fill="#0af50a" stroke="#000" stroke-width="1"/>
<circle cx="135" cy="313" r="2.8" fill="#0af50a" stroke="#000" stroke-width="1"/>
<circle cx="137" cy="316.9" r="2.8" fill="#0af50a" stroke="#000" stroke-width="1"/>
<circle cx="135" cy="321" r="2.8" fill="#0af50a" stroke="#000" stroke-width="1"/>
<circle cx="140" cy="328" r="2.8" fill="#0af50a" stroke="#000" stroke-width="1"/>
<circle cx="154.9" cy="345.5" r="2.8" fill="#ff0000" stroke="#000" stroke-width="1"/>
<circle cx="156.2" cy="349.4" r="2.8" fill="#ff0000" stroke="#000" stroke-width="1"/>
<circle cx="152.7" cy="351" r="2.8" fill="#ff0000" stroke="#000" stroke-width="1"/>
<circle cx="157.7" cy="354.7" r="2.8" fill="#ff0000" stroke="#000" stroke-width="1"/>
<circle cx="170" cy="311.3" r="2.8" fill="#ff0000" stroke="#000" stroke-width="1"/>
<circle cx="173" cy="311.3" r="2.8" fill="#ff0000" stroke="#000" stroke-width="1"/>
<circle cx="172.5" cy="314.2" r="2.8" fill="#ff0000" stroke="#000" stroke-width="1"/>
<circle cx="169.8" cy="328" r="2.8" fill="#ff0000" stroke="#000" stroke-width="1"/>
<circle cx="175.2" cy="328.5" r="2.8" fill="#ff0000" stroke="#000" stroke-width="1"/>
<circle cx="171.9" cy="332.4" r="2.8" fill="#ff0000" stroke="#000" stroke-width="1"/>
<circle cx="169.8" cy="337.2" r="2.8" fill="#ff0000" stroke="#000" stroke-width="1"/>
<circle cx="175.2" cy="337.9" r="2.8" fill="#ff0000" stroke="#000" stroke-width="1"/>
<circle cx="173" cy="342.2" r="2.8" fill="#ff0000" stroke="#000" stroke-width="1"/>
<circle cx="189" cy="312.1" r="2.8" fill="#ff0000" stroke="#000" stroke-width="1"/>
<circle cx="190.5" cy="319.3" r="2.8" fill="#ff0000" stroke="#000" stroke-width="1"/>
<circle cx="191.1" cy="323.7" r="2.8" fill="#ff0000" stroke="#000" stroke-width="1"/>
<circle cx="187.7" cy="326.3" r="2.8" fill="#ff0000" stroke="#000" stroke-width="1"/>
<circle cx="189.4" cy="329.1" r="2.8" fill="#ff0000" stroke="#000" stroke-width="1"/>
<circle cx="189" cy="332.4" r="2.8" fill="#ff0000" stroke="#000" stroke-width="1"/>
<circle cx="190" cy="338.5" r="2.8" fill="#ff0000" stroke="#000" stroke-width="1"/>
<circle cx="206.4" cy="305.8" r="2.8" fill="#ff0000" stroke="#000" stroke-width="1"/>
<circle cx="207.5" cy="306.6" r="2.8" fill="#ff0000" stroke="#000" stroke-width="1"/>
<circle cx="206.4" cy="317.1" r="2.8" fill="#ff0000" stroke="#000" stroke-width="1"/>
<circle cx="208.6" cy="319.3" r="2.8" fill="#ff0000" stroke="#000" stroke-width="1"/>
<circle cx="207.3" cy="323.7" r="2.8" fill="#ff0000" stroke="#000" stroke-width="1"/>
<circle cx="208.6" cy="328" r="2.8" fill="#ff0000" stroke="#000" stroke-width="1"/>
<circle cx="205.8" cy="333.5" r="2.8" fill="#ff0000" stroke="#000" stroke-width="1"/>
<circle cx="208" cy="337.9" r="2.8" fill="#ff0000" stroke="#000" stroke-width="1"/>
<circle cx="206.4" cy="342.2" r="2.8" fill="#ff0000" stroke="#000" stroke-width="1"/>
<circle cx="205.8" cy="345.5" r="2.8" fill="#ff0000" stroke="#000" stroke-width="1"/>
<circle cx="207.3" cy="347.7" r="2.8" fill="#ff0000" stroke="#000" stroke-width="1"/>
<circle cx="224.3" cy="309.9" r="2.8" fill="#ff0000" stroke="#000" stroke-width="1"/>
<circle cx="224.8" cy="330.2" r="2.8" fill="#ff0000" stroke="#000" stroke-width="1"/>
<circle cx="222.2" cy="335.7" r="2.8" fill="#ff0000" stroke="#000" stroke-width="1"/>
<circle cx="225.4" cy="337.2" r="2.8" fill="#ff0000" stroke="#000" stroke-width="1"/>
<circle cx="227" cy="340.7" r="2.8" fill="#ff0000" stroke="#000" stroke-width="1"/>
<line x1="67.5" y1="367.5" x2="67.5" y2="370.3" stroke="#222" stroke-width="1"/>
<text x="71" y="379.1" font-size="10.0" font-weight="bold" text-anchor="end" word-spacing="1.6" transform="rotate(-45 71 379.1)">0 d</text>
<line x1="84.97" y1="367.5" x2="84.97" y2="370.3" stroke="#222" stroke-width="1"/>
<text x="88.47" y="379.1" font-size="10.0" font-weight="bold" text-anchor="end" word-spacing="1.6" transform="rotate(-45 88.47 379.1)">7 d</text>
<line x1="102.44" y1="367.5" x2="102.44" y2="370.3" stroke="#222" stroke-width="1"/>
<text x="105.94" y="379.1" font-size="10.0" font-weight="bold" text-anchor="end" word-spacing="1.6" transform="rotate(-45 105.94 379.1)">14 d</text>
<line x1="119.91" y1="367.5" x2="119.91" y2="370.3" stroke="#222" stroke-width="1"/>
<text x="123.41" y="379.1" font-size="10.0" font-weight="bold" text-anchor="end" word-spacing="1.6" transform="rotate(-45 123.41 379.1)">28 d</text>
<line x1="137.38" y1="367.5" x2="137.38" y2="370.3" stroke="#222" stroke-width="1"/>
<text x="140.88" y="379.1" font-size="10.0" font-weight="bold" text-anchor="end" word-spacing="1.6" transform="rotate(-45 140.88 379.1)">56 d</text>
<line x1="154.85" y1="367.5" x2="154.85" y2="370.3" stroke="#222" stroke-width="1"/>
<text x="158.35" y="379.1" font-size="10.0" font-weight="bold" text-anchor="end" word-spacing="1.6" transform="rotate(-45 158.35 379.1)">0 d</text>
<line x1="172.32" y1="367.5" x2="172.32" y2="370.3" stroke="#222" stroke-width="1"/>
<text x="175.82" y="379.1" font-size="10.0" font-weight="bold" text-anchor="end" word-spacing="1.6" transform="rotate(-45 175.82 379.1)">7 d</text>
<line x1="189.79" y1="367.5" x2="189.79" y2="370.3" stroke="#222" stroke-width="1"/>
<text x="193.29" y="379.1" font-size="10.0" font-weight="bold" text-anchor="end" word-spacing="1.6" transform="rotate(-45 193.29 379.1)">14 d</text>
<line x1="207.26" y1="367.5" x2="207.26" y2="370.3" stroke="#222" stroke-width="1"/>
<text x="210.76" y="379.1" font-size="10.0" font-weight="bold" text-anchor="end" word-spacing="1.6" transform="rotate(-45 210.76 379.1)">28 d</text>
<line x1="224.73" y1="367.5" x2="224.73" y2="370.3" stroke="#222" stroke-width="1"/>
<text x="228.23" y="379.1" font-size="10.0" font-weight="bold" text-anchor="end" word-spacing="1.6" transform="rotate(-45 228.23 379.1)">56 d</text>
<line x1="50.5" y1="396.5" x2="69.5" y2="396.5" stroke="#333" stroke-width="1.3"/>
<text x="61.4" y="406.2" font-size="9" text-anchor="middle">S</text>
<line x1="72.6" y1="396.5" x2="135.9" y2="396.5" stroke="#333" stroke-width="1.3"/>
<text x="103.4" y="406.2" font-size="9" text-anchor="middle">ET</text>
<line x1="139.4" y1="396.5" x2="156.6" y2="396.5" stroke="#333" stroke-width="1.3"/>
<text x="148.3" y="406.2" font-size="9" text-anchor="middle">S</text>
<line x1="160.8" y1="396.5" x2="222.3" y2="396.5" stroke="#333" stroke-width="1.3"/>
<text x="191.5" y="406.2" font-size="9" text-anchor="middle">ET</text>
<text x="27" y="308.45" font-size="10.5" font-weight="bold" text-anchor="middle" transform="rotate(-90 27 308.45)">Spleen weight (mg)</text>
<text x="38.7" y="309.3" font-size="10.5" font-weight="bold" text-anchor="middle" transform="rotate(-90 38.7 309.3)">/body weight (g)</text>
<line x1="65.8" y1="260.5" x2="84.2" y2="260.5" stroke="#222" stroke-width="1.2"/>
<line x1="65.8" y1="258.2" x2="65.8" y2="262.8" stroke="#222" stroke-width="1.1"/>
<line x1="84.2" y1="258.2" x2="84.2" y2="262.8" stroke="#222" stroke-width="1.1"/>
<polygon points="70.9,254.85 71.46,256.23 72.94,256.34 71.8,257.29 72.16,258.74 70.9,257.95 69.64,258.74 70,257.29 68.86,256.34 70.34,256.23" fill="#111"/>
<polygon points="75.1,254.85 75.66,256.23 77.14,256.34 76,257.29 76.36,258.74 75.1,257.95 73.84,258.74 74.2,257.29 73.06,256.34 74.54,256.23" fill="#111"/>
<polygon points="79.3,254.85 79.86,256.23 81.34,256.34 80.2,257.29 80.56,258.74 79.3,257.95 78.04,258.74 78.4,257.29 77.26,256.34 78.74,256.23" fill="#111"/>
<line x1="65.8" y1="251.5" x2="99.8" y2="251.5" stroke="#222" stroke-width="1.2"/>
<line x1="65.8" y1="249.2" x2="65.8" y2="253.8" stroke="#222" stroke-width="1.1"/>
<line x1="99.8" y1="249.2" x2="99.8" y2="253.8" stroke="#222" stroke-width="1.1"/>
<polygon points="81,245.45 81.56,246.83 83.04,246.94 81.9,247.89 82.26,249.34 81,248.55 79.74,249.34 80.1,247.89 78.96,246.94 80.44,246.83" fill="#111"/>
<polygon points="85.2,245.45 85.76,246.83 87.24,246.94 86.1,247.89 86.46,249.34 85.2,248.55 83.94,249.34 84.3,247.89 83.16,246.94 84.64,246.83" fill="#111"/>
<line x1="65.8" y1="242.5" x2="121.1" y2="242.5" stroke="#222" stroke-width="1.2"/>
<line x1="65.8" y1="240.2" x2="65.8" y2="244.8" stroke="#222" stroke-width="1.1"/>
<line x1="121.1" y1="240.2" x2="121.1" y2="244.8" stroke="#222" stroke-width="1.1"/>
<polygon points="91.4,235.75 91.96,237.13 93.44,237.24 92.3,238.19 92.66,239.64 91.4,238.85 90.14,239.64 90.5,238.19 89.36,237.24 90.84,237.13" fill="#111"/>
<polygon points="95.6,235.75 96.16,237.13 97.64,237.24 96.5,238.19 96.86,239.64 95.6,238.85 94.34,239.64 94.7,238.19 93.56,237.24 95.04,237.13" fill="#111"/>
<line x1="153.6" y1="302.5" x2="171.5" y2="302.5" stroke="#222" stroke-width="1.2"/>
<line x1="153.6" y1="300.2" x2="153.6" y2="304.8" stroke="#222" stroke-width="1.1"/>
<line x1="171.5" y1="300.2" x2="171.5" y2="304.8" stroke="#222" stroke-width="1.1"/>
<polygon points="158.6,295.95 159.16,297.33 160.64,297.44 159.5,298.39 159.86,299.84 158.6,299.05 157.34,299.84 157.7,298.39 156.56,297.44 158.04,297.33" fill="#111"/>
<polygon points="162.8,295.95 163.36,297.33 164.84,297.44 163.7,298.39 164.06,299.84 162.8,299.05 161.54,299.84 161.9,298.39 160.76,297.44 162.24,297.33" fill="#111"/>
<polygon points="167,295.95 167.56,297.33 169.04,297.44 167.9,298.39 168.26,299.84 167,299.05 165.74,299.84 166.1,298.39 164.96,297.44 166.44,297.33" fill="#111"/>
<line x1="153.6" y1="292.5" x2="189.5" y2="292.5" stroke="#222" stroke-width="1.2"/>
<line x1="153.6" y1="290.2" x2="153.6" y2="294.8" stroke="#222" stroke-width="1.1"/>
<line x1="189.5" y1="290.2" x2="189.5" y2="294.8" stroke="#222" stroke-width="1.1"/>
<polygon points="166.9,285.75 167.46,287.13 168.94,287.24 167.8,288.19 168.16,289.64 166.9,288.85 165.64,289.64 166,288.19 164.86,287.24 166.34,287.13" fill="#111"/>
<polygon points="171.1,285.75 171.66,287.13 173.14,287.24 172,288.19 172.36,289.64 171.1,288.85 169.84,289.64 170.2,288.19 169.06,287.24 170.54,287.13" fill="#111"/>
<polygon points="175.3,285.75 175.86,287.13 177.34,287.24 176.2,288.19 176.56,289.64 175.3,288.85 174.04,289.64 174.4,288.19 173.26,287.24 174.74,287.13" fill="#111"/>
<line x1="153.6" y1="282.5" x2="208.5" y2="282.5" stroke="#222" stroke-width="1.2"/>
<line x1="153.6" y1="280.2" x2="153.6" y2="284.8" stroke="#222" stroke-width="1.1"/>
<line x1="208.5" y1="280.2" x2="208.5" y2="284.8" stroke="#222" stroke-width="1.1"/>
<polygon points="177.1,275.55 177.66,276.93 179.14,277.04 178,277.99 178.36,279.44 177.1,278.65 175.84,279.44 176.2,277.99 175.06,277.04 176.54,276.93" fill="#111"/>
<polygon points="181.3,275.55 181.86,276.93 183.34,277.04 182.2,277.99 182.56,279.44 181.3,278.65 180.04,279.44 180.4,277.99 179.26,277.04 180.74,276.93" fill="#111"/>
<polygon points="185.5,275.55 186.06,276.93 187.54,277.04 186.4,277.99 186.76,279.44 185.5,278.65 184.24,279.44 184.6,277.99 183.46,277.04 184.94,276.93" fill="#111"/>
<line x1="153.6" y1="271.5" x2="226.8" y2="271.5" stroke="#222" stroke-width="1.2"/>
<line x1="153.6" y1="269.2" x2="153.6" y2="273.8" stroke="#222" stroke-width="1.1"/>
<line x1="226.8" y1="269.2" x2="226.8" y2="273.8" stroke="#222" stroke-width="1.1"/>
<polygon points="186,264.35 186.56,265.73 188.04,265.84 186.9,266.79 187.26,268.24 186,267.45 184.74,268.24 185.1,266.79 183.96,265.84 185.44,265.73" fill="#111"/>
<polygon points="190.2,264.35 190.76,265.73 192.24,265.84 191.1,266.79 191.46,268.24 190.2,267.45 188.94,268.24 189.3,266.79 188.16,265.84 189.64,265.73" fill="#111"/>
<text x="296" y="225.1" font-size="16.6">D</text>
<line x1="352.4" y1="256.6" x2="352.4" y2="376" stroke="#222" stroke-width="1"/>
<line x1="351.9" y1="375.5" x2="526.9" y2="375.5" stroke="#222" stroke-width="1"/>
<line x1="349.2" y1="257" x2="352.4" y2="257" stroke="#222" stroke-width="1"/>
<text transform="translate(348 261) scale(0.93 1)" font-size="11.3" font-weight="bold" text-anchor="end">120</text>
<line x1="349.2" y1="276.75" x2="352.4" y2="276.75" stroke="#222" stroke-width="1"/>
<text transform="translate(348 280.75) scale(0.93 1)" font-size="11.3" font-weight="bold" text-anchor="end">100</text>
<line x1="349.2" y1="296.5" x2="352.4" y2="296.5" stroke="#222" stroke-width="1"/>
<text transform="translate(348 300.5) scale(0.93 1)" font-size="11.3" font-weight="bold" text-anchor="end">80</text>
<line x1="349.2" y1="316.25" x2="352.4" y2="316.25" stroke="#222" stroke-width="1"/>
<text transform="translate(348 320.25) scale(0.93 1)" font-size="11.3" font-weight="bold" text-anchor="end">60</text>
<line x1="349.2" y1="336" x2="352.4" y2="336" stroke="#222" stroke-width="1"/>
<text transform="translate(348 340) scale(0.93 1)" font-size="11.3" font-weight="bold" text-anchor="end">40</text>
<line x1="349.2" y1="355.75" x2="352.4" y2="355.75" stroke="#222" stroke-width="1"/>
<text transform="translate(348 359.75) scale(0.93 1)" font-size="11.3" font-weight="bold" text-anchor="end">20</text>
<line x1="349.2" y1="375.5" x2="352.4" y2="375.5" stroke="#222" stroke-width="1"/>
<text transform="translate(348 379.5) scale(0.93 1)" font-size="11.3" font-weight="bold" text-anchor="end">0</text>
<line x1="352.4" y1="375.5" x2="352.4" y2="378.5" stroke="#222" stroke-width="1"/>
<text transform="translate(352.4 389.8) scale(0.93 1)" font-size="11.3" font-weight="bold" text-anchor="middle">0</text>
<line x1="374.15" y1="375.5" x2="374.15" y2="378.5" stroke="#222" stroke-width="1"/>
<text transform="translate(374.15 389.8) scale(0.93 1)" font-size="11.3" font-weight="bold" text-anchor="middle">1</text>
<line x1="395.9" y1="375.5" x2="395.9" y2="378.5" stroke="#222" stroke-width="1"/>
<text transform="translate(395.9 389.8) scale(0.93 1)" font-size="11.3" font-weight="bold" text-anchor="middle">2</text>
<line x1="417.65" y1="375.5" x2="417.65" y2="378.5" stroke="#222" stroke-width="1"/>
<text transform="translate(417.65 389.8) scale(0.93 1)" font-size="11.3" font-weight="bold" text-anchor="middle">3</text>
<line x1="439.4" y1="375.5" x2="439.4" y2="378.5" stroke="#222" stroke-width="1"/>
<text transform="translate(439.4 389.8) scale(0.93 1)" font-size="11.3" font-weight="bold" text-anchor="middle">4</text>
<line x1="461.15" y1="375.5" x2="461.15" y2="378.5" stroke="#222" stroke-width="1"/>
<text transform="translate(461.15 389.8) scale(0.93 1)" font-size="11.3" font-weight="bold" text-anchor="middle">5</text>
<line x1="482.9" y1="375.5" x2="482.9" y2="378.5" stroke="#222" stroke-width="1"/>
<text transform="translate(482.9 389.8) scale(0.93 1)" font-size="11.3" font-weight="bold" text-anchor="middle">6</text>
<line x1="504.65" y1="375.5" x2="504.65" y2="378.5" stroke="#222" stroke-width="1"/>
<text transform="translate(504.65 389.8) scale(0.93 1)" font-size="11.3" font-weight="bold" text-anchor="middle">7</text>
<line x1="526.4" y1="375.5" x2="526.4" y2="378.5" stroke="#222" stroke-width="1"/>
<text transform="translate(526.4 389.8) scale(0.93 1)" font-size="11.3" font-weight="bold" text-anchor="middle">8</text>
<text x="439.3" y="404" font-size="11.4" font-weight="bold" text-anchor="middle">Weeks</text>
<text x="325.7" y="378.4" font-size="11" font-weight="bold" transform="rotate(-90 325.7 378.4)">Percent survival rate</text>
<text x="325.9" y="265.3" font-size="11" font-weight="bold" transform="rotate(-90 325.9 265.3)">(</text>
<text font-size="13.2" text-anchor="middle" transform="translate(326.7 256.75) rotate(-90) scale(0.72 1)">%</text>
<text x="325.9" y="251.4" font-size="11" font-weight="bold" transform="rotate(-90 325.9 251.4)">)</text>
<polyline points="352.4,276.75 374.15,276.75 374.15,285.64 526.4,285.64" fill="none" stroke="#2aef2a" stroke-width="1.3"/>
<polyline points="352.4,275.27 374.15,275.27 374.15,283.17 439.4,283.17 439.4,290.57 482.9,290.57 482.9,313.49 504.65,313.49 504.65,321.19 526.4,321.19 526.4,328.69" fill="none" stroke="#ff2020" stroke-width="1.3"/>
<circle cx="374.15" cy="283.17" r="2.9" fill="#ff0000" stroke="#000" stroke-width="0.9"/>
<circle cx="374.15" cy="285.64" r="2.9" fill="#0af50a" stroke="#000" stroke-width="0.9"/>
<circle cx="439.4" cy="290.57" r="2.9" fill="#ff0000" stroke="#000" stroke-width="0.9"/>
<circle cx="482.9" cy="313.49" r="2.9" fill="#ff0000" stroke="#000" stroke-width="0.9"/>
<circle cx="504.65" cy="321.19" r="2.9" fill="#ff0000" stroke="#000" stroke-width="0.9"/>
<circle cx="526.4" cy="328.69" r="2.9" fill="#ff0000" stroke="#000" stroke-width="0.9"/>
<circle cx="526.4" cy="285.64" r="2.9" fill="#0af50a" stroke="#000" stroke-width="0.9"/>
<line x1="536.6" y1="286.2" x2="536.6" y2="327.8" stroke="#1a1a1a" stroke-width="1.3"/>
<line x1="534.2" y1="286.5" x2="539.2" y2="286.5" stroke="#1a1a1a" stroke-width="1.2"/>
<line x1="534.2" y1="327.5" x2="539.2" y2="327.5" stroke="#1a1a1a" stroke-width="1.2"/>
<polygon points="543.3,304.8 543.8,306.01 545.11,306.11 544.11,306.96 544.42,308.24 543.3,307.55 542.18,308.24 542.49,306.96 541.49,306.11 542.8,306.01" fill="#111"/>
<line x1="367" y1="238.6" x2="376.2" y2="238.6" stroke="#2aef2a" stroke-width="1.2"/>
<circle cx="371.6" cy="238.6" r="2.9" fill="#0af50a" stroke="#000" stroke-width="0.9"/>
<text x="381.3" y="242.2" font-size="11.3" word-spacing="1.2">WT + ET</text>
<line x1="448" y1="238.6" x2="457.4" y2="238.6" stroke="#ff2020" stroke-width="1.2"/>
<circle cx="452.7" cy="238.6" r="2.9" fill="#ff0000" stroke="#000" stroke-width="0.9"/>
<text x="462.4" y="242.2" font-size="11.3" word-spacing="1.1">muMT + ET</text>
</svg>
</body></html>
